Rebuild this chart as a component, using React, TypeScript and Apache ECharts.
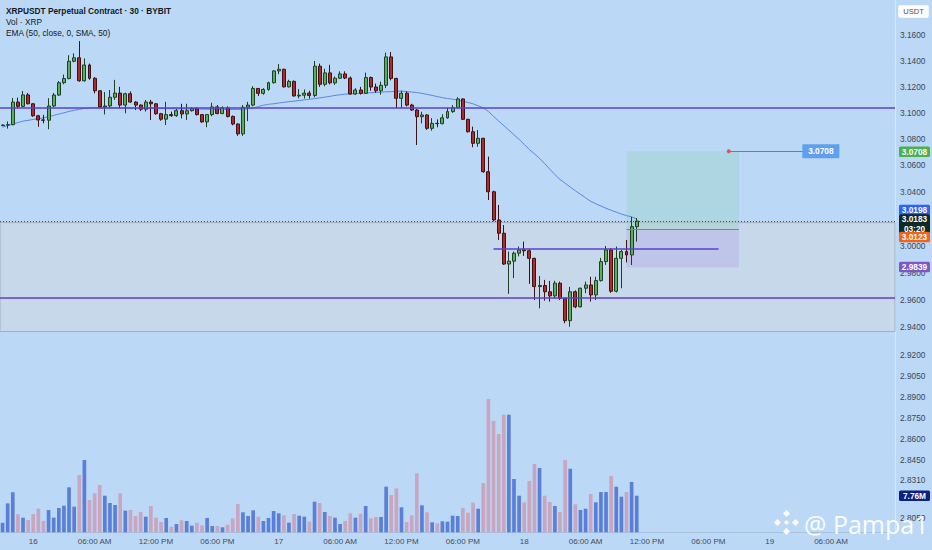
import React, { useEffect, useRef } from "react";
import * as echarts from "echarts";

// ---------- time slots (30 min candles) ----------
const startTimeUtc = Date.UTC(2025, 7, 15, 21, 0); // 15th 21:00
const slotMinutes = 30;
const slotCount = 175; // visible slots incl. empty future area

// ---------- candles ----------
const opens = [
  3.0903, 3.0907, 3.0910, 3.1083, 3.1050, 3.1138, 3.1070, 3.0978, 3.0946, 3.0944,
  3.1053, 3.1137, 3.1232, 3.1264, 3.1398, 3.1425, 3.1247, 3.1369, 3.1266, 3.1170,
  3.1046, 3.1053, 3.1120, 3.1152, 3.1060, 3.1147, 3.1083, 3.1060, 3.1028, 3.1083,
  3.1070, 3.0994, 3.0952, 3.0987, 3.0979, 3.1017, 3.0992, 3.1017, 3.1032, 3.0987,
  3.0931, 3.0987, 3.1046, 3.0995, 3.1039, 3.0973, 3.0915, 3.0840, 3.1043, 3.1060,
  3.1188, 3.1150, 3.1180, 3.1232, 3.1323, 3.1336, 3.1200, 3.1242, 3.1130, 3.1136,
  3.1152, 3.1134, 3.1360, 3.1220, 3.1308, 3.1231, 3.1267, 3.1300, 3.1268, 3.1145,
  3.1176, 3.1150, 3.1272, 3.1199, 3.1170, 3.1212, 3.1432, 3.1265, 3.1112, 3.1151,
  3.1060, 3.1022, 3.0971, 3.0984, 3.0882, 3.0920, 3.0918, 3.0962, 3.1010, 3.1040,
  3.1107, 3.0951, 3.0856, 3.0768, 3.0806, 3.0553, 3.0402, 3.0191, 3.0092, 2.9864,
  2.9885, 2.9944, 2.9968, 2.9962, 2.9906, 2.9698, 2.9706, 2.9660, 2.9630, 2.9723,
  2.9612, 2.9449, 2.9660, 2.9550, 2.9686, 2.9710, 2.9637, 2.9742, 2.9882, 2.9968,
  2.9664, 2.9906, 2.9956, 2.9931, 3.0141,
];
const highs = [
  3.0912, 3.0935, 3.1114, 3.1117, 3.1168, 3.1153, 3.1075, 3.0985, 3.0985, 3.1113,
  3.1153, 3.1245, 3.1295, 3.1445, 3.1460, 3.1555, 3.1420, 3.1380, 3.1275, 3.1172,
  3.1160, 3.1176, 3.1254, 3.1200, 3.1155, 3.1165, 3.1090, 3.1065, 3.1099, 3.1100,
  3.1075, 3.1000, 3.1085, 3.1010, 3.1030, 3.1070, 3.1070, 3.1042, 3.1045, 3.0990,
  3.0990, 3.1078, 3.1060, 3.1050, 3.1050, 3.0980, 3.0920, 3.1060, 3.1085, 3.1205,
  3.1190, 3.1190, 3.1240, 3.1330, 3.1376, 3.1340, 3.1255, 3.1250, 3.1183, 3.1180,
  3.1170, 3.1400, 3.1380, 3.1340, 3.1370, 3.1280, 3.1320, 3.1320, 3.1280, 3.1190,
  3.1200, 3.1310, 3.1280, 3.1225, 3.1240, 3.1465, 3.1470, 3.1270, 3.1170, 3.1165,
  3.1070, 3.1030, 3.1009, 3.0990, 3.0960, 3.0950, 3.0990, 3.1040, 3.1060, 3.1120,
  3.1112, 3.0955, 3.0895, 3.0869, 3.0810, 3.0667, 3.0410, 3.0303, 3.0153, 2.9956,
  2.9956, 2.9993, 3.0030, 2.9973, 2.9910, 2.9776, 2.9747, 2.9740, 2.9740, 2.9735,
  2.9615, 2.9696, 2.9670, 2.9690, 2.9735, 2.9770, 2.9770, 2.9909, 2.9998, 2.9983,
  2.9993, 2.9968, 3.0042, 3.0214, 3.0205,
];
const lows = [
  3.0898, 3.0880, 3.0905, 3.1035, 3.1045, 3.1065, 3.0970, 3.0894, 3.0920, 3.0875,
  3.1045, 3.1130, 3.1220, 3.1258, 3.1390, 3.1240, 3.1240, 3.1255, 3.1150, 3.1040,
  3.0988, 3.1040, 3.1100, 3.1036, 3.0997, 3.1078, 3.1022, 3.1015, 3.1010, 3.0946,
  3.0985, 3.0940, 3.0907, 3.0970, 3.0970, 3.0958, 3.0946, 3.1010, 3.0980, 3.0925,
  3.0891, 3.0975, 3.0990, 3.0990, 3.0965, 3.0905, 3.0825, 3.0825, 3.0937, 3.1050,
  3.1130, 3.1140, 3.1170, 3.1225, 3.1298, 3.1195, 3.1195, 3.1125, 3.1112, 3.1110,
  3.1110, 3.1120, 3.1200, 3.1205, 3.1220, 3.1215, 3.1260, 3.1260, 3.1140, 3.1138,
  3.1140, 3.1145, 3.1170, 3.1155, 3.1140, 3.1190, 3.1250, 3.1035, 3.1037, 3.1050,
  3.1015, 3.0755, 3.0920, 3.0870, 3.0864, 3.0890, 3.0912, 3.0955, 3.1000, 3.1035,
  3.0946, 3.0850, 3.0738, 3.0742, 3.0545, 3.0340, 3.0180, 3.0042, 2.9857, 2.9645,
  2.9760, 2.9920, 2.9924, 2.9718, 2.9600, 2.9539, 2.9595, 2.9588, 2.9612, 2.9600,
  2.9430, 2.9405, 2.9540, 2.9545, 2.9650, 2.9588, 2.9600, 2.9735, 2.9857, 2.9652,
  2.9655, 2.9686, 2.9876, 2.9857, 3.0030,
];
const closes = [
  3.0907, 3.0910, 3.1083, 3.1050, 3.1138, 3.1070, 3.0978, 3.0946, 3.0944, 3.1053,
  3.1137, 3.1232, 3.1264, 3.1398, 3.1425, 3.1247, 3.1369, 3.1266, 3.1170, 3.1046,
  3.1053, 3.1120, 3.1152, 3.1060, 3.1147, 3.1083, 3.1060, 3.1028, 3.1083, 3.1070,
  3.0994, 3.0952, 3.0987, 3.0979, 3.1017, 3.0992, 3.1017, 3.1032, 3.0987, 3.0931,
  3.0987, 3.1046, 3.0995, 3.1039, 3.0973, 3.0915, 3.0840, 3.1043, 3.1060, 3.1188,
  3.1150, 3.1180, 3.1232, 3.1323, 3.1336, 3.1200, 3.1242, 3.1130, 3.1136, 3.1152,
  3.1134, 3.1360, 3.1220, 3.1308, 3.1231, 3.1267, 3.1300, 3.1268, 3.1145, 3.1176,
  3.1150, 3.1272, 3.1199, 3.1170, 3.1212, 3.1432, 3.1265, 3.1112, 3.1151, 3.1060,
  3.1022, 3.0971, 3.0984, 3.0882, 3.0920, 3.0918, 3.0962, 3.1010, 3.1040, 3.1107,
  3.0951, 3.0856, 3.0768, 3.0806, 3.0553, 3.0402, 3.0191, 3.0092, 2.9864, 2.9885,
  2.9944, 2.9968, 2.9962, 2.9906, 2.9698, 2.9706, 2.9660, 2.9630, 2.9723, 2.9612,
  2.9449, 2.9660, 2.9550, 2.9686, 2.9710, 2.9637, 2.9742, 2.9882, 2.9968, 2.9664,
  2.9906, 2.9956, 2.9931, 3.0141, 3.0183,
];
// volume in millions XRP
const volumesM = [
  2.04, 6.15, 8.48, 3.82, 3.10, 2.61, 3.88, 5.00, 2.40, 4.73,
  3.10, 5.15, 5.64, 9.54, 5.43, 12.15, 15.33, 6.85, 8.27, 10.03,
  7.76, 6.21, 5.79, 8.27, 4.58, 4.73, 3.46, 4.30, 3.31, 5.58,
  3.10, 2.18, 3.03, 1.19, 1.76, 2.54, 2.40, 1.40, 2.04, 1.48,
  3.03, 1.34, 1.34, 1.06, 1.61, 2.97, 6.00, 4.24, 3.46, 4.66,
  3.31, 2.40, 3.03, 4.52, 4.03, 3.60, 2.04, 3.88, 3.52, 3.31,
  2.25, 6.49, 6.21, 4.30, 3.46, 3.10, 1.76, 2.40, 4.03, 3.10,
  3.94, 5.58, 2.97, 3.24, 3.24, 9.67, 7.91, 9.33, 5.30, 2.18,
  3.60, 12.51, 5.72, 4.24, 2.12, 1.91, 2.33, 2.25, 3.52, 3.46,
  5.15, 4.16, 6.28, 5.00, 10.45, 28.26, 23.60, 20.84, 24.93, 24.93,
  11.30, 7.76, 6.36, 10.88, 14.48, 13.63, 7.76, 6.42, 5.58, 4.30,
  15.33, 13.48, 5.94, 4.73, 5.00, 8.12, 6.36, 8.54, 8.54, 11.94,
  9.67, 7.55, 8.54, 10.66, 7.76,
];
// EMA(50)
const ema50 = [
  3.0891, 3.0903, 3.0914, 3.0926, 3.0937, 3.0943, 3.0950, 3.0956, 3.0962, 3.0971,
  3.0981, 3.0991, 3.1001, 3.1011, 3.1020, 3.1027, 3.1034, 3.1038, 3.1041, 3.1040,
  3.1040, 3.1039, 3.1039, 3.1038, 3.1038, 3.1037, 3.1037, 3.1036, 3.1035, 3.1035,
  3.1034, 3.1033, 3.1033, 3.1032, 3.1031, 3.1031, 3.1030, 3.1030, 3.1030, 3.1029,
  3.1028, 3.1028, 3.1027, 3.1027, 3.1026, 3.1026, 3.1026, 3.1026, 3.1032, 3.1038,
  3.1048, 3.1059, 3.1066, 3.1070, 3.1076, 3.1081, 3.1086, 3.1090, 3.1095, 3.1100,
  3.1104, 3.1110, 3.1115, 3.1121, 3.1127, 3.1134, 3.1139, 3.1144, 3.1146, 3.1148,
  3.1151, 3.1153, 3.1155, 3.1158, 3.1159, 3.1162, 3.1163, 3.1165, 3.1168, 3.1164,
  3.1160, 3.1156, 3.1150, 3.1142, 3.1134, 3.1125, 3.1117, 3.1110, 3.1105, 3.1099,
  3.1089, 3.1080, 3.1070, 3.1054, 3.1039, 3.1010, 3.0974, 3.0938, 3.0903, 3.0868,
  3.0833, 3.0798, 3.0760, 3.0721, 3.0688, 3.0654, 3.0614, 3.0572, 3.0531, 3.0494,
  3.0466, 3.0437, 3.0409, 3.0383, 3.0357, 3.0330, 3.0312, 3.0295, 3.0278, 3.0263,
  3.0249, 3.0235, 3.0223, 3.0214, 3.0198,
];

// ---------- price scale tick labels ----------
const priceTicks = [
  3.16, 3.14, 3.12, 3.1, 3.08, 3.06, 3.04, 3.0, 2.98, 2.96, 2.94, 2.92,
  2.905, 2.89, 2.875, 2.86, 2.845, 2.831, 2.805,
];

// ---------- drawings ----------
const resistanceLevel = 3.104;
const supportLevel = 2.9613;
const midLevel = 2.9975;
const midLevelFrom = 96;
const midLevelTo = 140;
const zoneTop = 3.0171;
const zoneBottom = 2.937;
const positionFrom = 122;
const positionTo = 144;
const targetPrice = 3.0708;
const entryPrice = 3.0123;
const stopPrice = 2.9839;
const lastPrice = 3.0183;
const lastEma = 3.0198;
const countdown = "03:20";
const noteFrom = 142;
const noteTo = 157;
const noteLabelAt = 160;
const lastVolume = 7.76;
const lastVolumeLabel = "7.76M";

// ---------- styles ----------
const BG = "#bbd9f7";
const FONT = '"Liberation Sans", Arial, sans-serif';
const UP = "#5aaf5a";
const DOWN = "#b02a2a";
const UP_BORDER = "#1f3f22";
const DOWN_BORDER = "#3e1212";
const VOL_UP = "#5b7fd6";
const VOL_DOWN = "#c8a6bf";
const PURPLE = "#5b3fd0";
const EMA_COLOR = "#5a86e6";

const LN = Math.log;
const Y_MIN = 1.027795;
const Y_MAX = 1.159292;
const VOL_MAX = 31.87;

const times = Array.from({ length: slotCount }, (_, i) =>
  String(startTimeUtc + i * slotMinutes * 60000)
);

function timeLabel(v: string) {
  const d = new Date(Number(v));
  const h = d.getUTCHours();
  if (h === 0) return String(d.getUTCDate());
  const h12 = h % 12 === 0 ? 12 : h % 12;
  return `${String(h12).padStart(2, "0")}:00 ${h < 12 ? "AM" : "PM"}`;
}

function buildOption(): any {
  const candleData = opens.map((o, i) => [LN(o), LN(closes[i]), LN(lows[i]), LN(highs[i])]);
  const emaData = ema50.map((v) => LN(v));
  const volData = volumesM.map((v, i) => ({
    value: v,
    itemStyle: { color: closes[i] >= opens[i] ? VOL_UP : VOL_DOWN },
  }));
  const gridBase = { left: -3.4, right: 37, bottom: 17.7 };
  const purple = { color: PURPLE, width: 1.5, type: "solid" };
  return {
    animation: false,
    backgroundColor: BG,
    grid: [
      { ...gridBase, top: 0 },
      { ...gridBase, top: 382 },
    ],
    xAxis: [
      {
        type: "category",
        gridIndex: 0,
        data: times,
        boundaryGap: true,
        axisLine: { show: true, lineStyle: { color: "#a9c2dc", width: 1 } },
        axisTick: { show: false },
        splitLine: { show: false },
        axisLabel: {
          interval: (idx: number, v: string) => {
            if (idx >= slotCount - 1) return false;
            const d = new Date(Number(v));
            return d.getUTCMinutes() === 0 && d.getUTCHours() % 6 === 0;
          },
          formatter: (v: string) => timeLabel(v),
          color: "#454a57",
          fontSize: 8,
          fontFamily: FONT,
          margin: 5,
        },
      },
      {
        type: "category",
        gridIndex: 1,
        data: times,
        boundaryGap: true,
        show: false,
      },
    ],
    yAxis: [
      {
        type: "value",
        gridIndex: 0,
        position: "right",
        min: Y_MIN,
        max: Y_MAX,
        splitLine: { show: false },
        axisTick: { show: false },
        axisLine: { show: true, lineStyle: { color: "#d6e7f8", width: 1 } },
        axisLabel: {
          customValues: priceTicks.map((p) => LN(p)),
          formatter: (v: number) => Math.exp(v).toFixed(4),
          color: "#3f4452",
          fontSize: 8.3,
          fontFamily: FONT,
          margin: 5,
        },
      },
      {
        type: "value",
        gridIndex: 1,
        min: 0,
        max: VOL_MAX,
        show: false,
        splitLine: { show: false },
      },
    ],
    series: [
      {
        name: "Vol",
        type: "bar",
        xAxisIndex: 1,
        yAxisIndex: 1,
        data: volData,
        barWidth: "72%",
        z: 1,
      },
      {
        name: "EMA",
        type: "line",
        xAxisIndex: 0,
        yAxisIndex: 0,
        data: emaData,
        symbol: "none",
        smooth: false,
        lineStyle: { color: EMA_COLOR, width: 1 },
        z: 3,
      },
      {
        name: "XRPUSDT",
        type: "candlestick",
        xAxisIndex: 0,
        yAxisIndex: 0,
        data: candleData,
        barWidth: "68%",
        z: 4,
        itemStyle: {
          color: UP,
          color0: DOWN,
          borderColor: UP_BORDER,
          borderColor0: DOWN_BORDER,
          borderWidth: 1,
        },
        markArea: {
          silent: true,
          data: [
            [
              {
                yAxis: LN(zoneTop),
                itemStyle: {
                  color: "rgba(214,214,218,0.42)",
                  borderColor: "#a3b0bf",
                  borderWidth: 1,
                },
              },
              { yAxis: LN(zoneBottom) },
            ],
            [
              {
                xAxis: times[positionFrom],
                yAxis: LN(targetPrice),
                itemStyle: { color: "rgba(158,208,200,0.45)" },
              },
              { xAxis: times[positionTo], yAxis: LN(entryPrice) },
            ],
            [
              {
                xAxis: times[positionFrom],
                yAxis: LN(entryPrice),
                itemStyle: { color: "rgba(178,172,228,0.42)" },
              },
              { xAxis: times[positionTo], yAxis: LN(stopPrice) },
            ],
          ],
        },
        markLine: {
          silent: true,
          precision: 8,
          symbol: ["none", "none"],
          label: { show: false },
          data: [
            { yAxis: LN(resistanceLevel), lineStyle: purple },
            { yAxis: LN(supportLevel), lineStyle: purple },
            [
              { coord: [times[midLevelFrom], LN(midLevel)], lineStyle: purple },
              { coord: [times[midLevelTo], LN(midLevel)] },
            ],
            { yAxis: LN(lastPrice), lineStyle: { color: "#3b4a5e", width: 1, type: [1, 2] } },
            [
              { coord: [times[positionFrom], LN(entryPrice)], lineStyle: { color: "#e0643c", width: 1, type: "solid" } },
              { coord: [times[positionTo], LN(entryPrice)] },
            ],
            [
              {
                coord: [times[noteFrom], LN(targetPrice)],
                lineStyle: { color: "#e05252", width: 1, type: "solid" },
                symbol: "circle",
                symbolSize: 4,
                itemStyle: { color: "#e05252" },
              },
              { coord: [times[noteTo], LN(targetPrice)], symbol: "none" },
            ],
          ],
        },
        markPoint: {
          silent: true,
          data: [
            {
              coord: [times[noteLabelAt], LN(targetPrice)],
              symbol: "rect",
              symbolSize: [37, 14],
              itemStyle: { color: "#5f9ff0" },
              label: {
                show: true,
                position: "inside",
                formatter: targetPrice.toFixed(4),
                color: "#ffffff",
                fontSize: 8.3,
                fontWeight: "bold",
                fontFamily: FONT,
              },
            },
          ],
        },
      },
    ],
  };
}

function tag(yc: number, h: number, text: string, bg: string) {
  return [
    {
      type: "rect",
      z: 100,
      shape: { x: 899, y: yc - h / 2, width: 31, height: h, r: 1.5 },
      style: { fill: bg },
    },
    {
      type: "text",
      z: 101,
      x: 914.5,
      y: yc,
      style: {
        text,
        fill: "#ffffff",
        font: `bold 8.3px ${FONT}`,
        align: "center",
        verticalAlign: "middle",
        textAlign: "center",
        textVerticalAlign: "middle",
        lineHeight: 9.5,
      },
    },
  ];
}

function diamond(cx: number, cy: number, s: number) {
  return {
    type: "polygon",
    z: 200,
    shape: { points: [[cx, cy - s], [cx + s, cy], [cx, cy + s], [cx - s, cy]] },
    style: { fill: "rgba(255,255,255,0.92)" },
  };
}

function buildGraphic(chart: any): any[] {
  const yp = (p: number) => chart.convertToPixel({ yAxisIndex: 0 }, LN(p));
  const yv = (v: number) => chart.convertToPixel({ yAxisIndex: 1 }, v);
  const titleStyle = (text: string, y: number, bold: boolean) => ({
    type: "text",
    z: 100,
    x: 6,
    y,
    style: {
      text,
      fill: "#131722",
      font: `${bold ? "bold " : ""}8.3px ${FONT}`,
      verticalAlign: "middle",
      textVerticalAlign: "middle",
    },
  });
  const els: any[] = [
    titleStyle("XRPUSDT Perpetual Contract · 30 · BYBIT", 10.5, true),
    titleStyle("Vol · XRP", 21.5, false),
    titleStyle("EMA (50, close, 0, SMA, 50)", 32.5, false),
    {
      type: "rect",
      z: 100,
      shape: { x: 898, y: 5, width: 31, height: 13, r: 2 },
      style: { fill: "#ffffff", stroke: "#c5d3e2", lineWidth: 0.5 },
    },
    {
      type: "text",
      z: 101,
      x: 913.5,
      y: 11.5,
      style: {
        text: "USDT",
        fill: "#4a4f5c",
        font: `7.5px ${FONT}`,
        align: "center",
        verticalAlign: "middle",
        textAlign: "center",
        textVerticalAlign: "middle",
      },
    },
    ...tag(yp(targetPrice) + 0.5, 10.5, targetPrice.toFixed(4), "#4caf50"),
    ...tag(yp(lastEma) - 9, 10.5, lastEma.toFixed(4), "#2962ff"),
    ...tag(yp(lastPrice) + 3, 19.5, `${lastPrice.toFixed(4)}\n${countdown}`, "#0e2a25"),
    ...tag(yp(entryPrice) + 8, 10.5, entryPrice.toFixed(4), "#f26419"),
    ...tag(yp(stopPrice) - 0.5, 10.5, stopPrice.toFixed(4), "#7e57c2"),
    ...tag(yv(lastVolume), 10.5, lastVolumeLabel, "#0d2183"),
    // watermark
    diamond(786.5, 513.5, 3.6),
    diamond(777.5, 522.5, 3.6),
    diamond(795.5, 522.5, 3.6),
    diamond(786.5, 531.5, 3.6),
    diamond(786.5, 522.5, 2.6),
    {
      type: "text",
      z: 200,
      x: 804,
      y: 524,
      style: {
        text: "@ Pampa1",
        fill: "rgba(255,255,255,0.95)",
        font: `25px "Open Sans", ${FONT}`,
        verticalAlign: "middle",
        textVerticalAlign: "middle",
      },
    },
  ];
  return els;
}

export default function App() {
  const ref = useRef<HTMLDivElement>(null);
  useEffect(() => {
    document.body.style.margin = "0";
    const chart = echarts.init(ref.current!, undefined, { renderer: "svg" });
    chart.setOption(buildOption());
    chart.setOption({ graphic: buildGraphic(chart) });
    return () => chart.dispose();
  }, []);
  return <div ref={ref} style={{ width: 932, height: 550 }} />;
}
